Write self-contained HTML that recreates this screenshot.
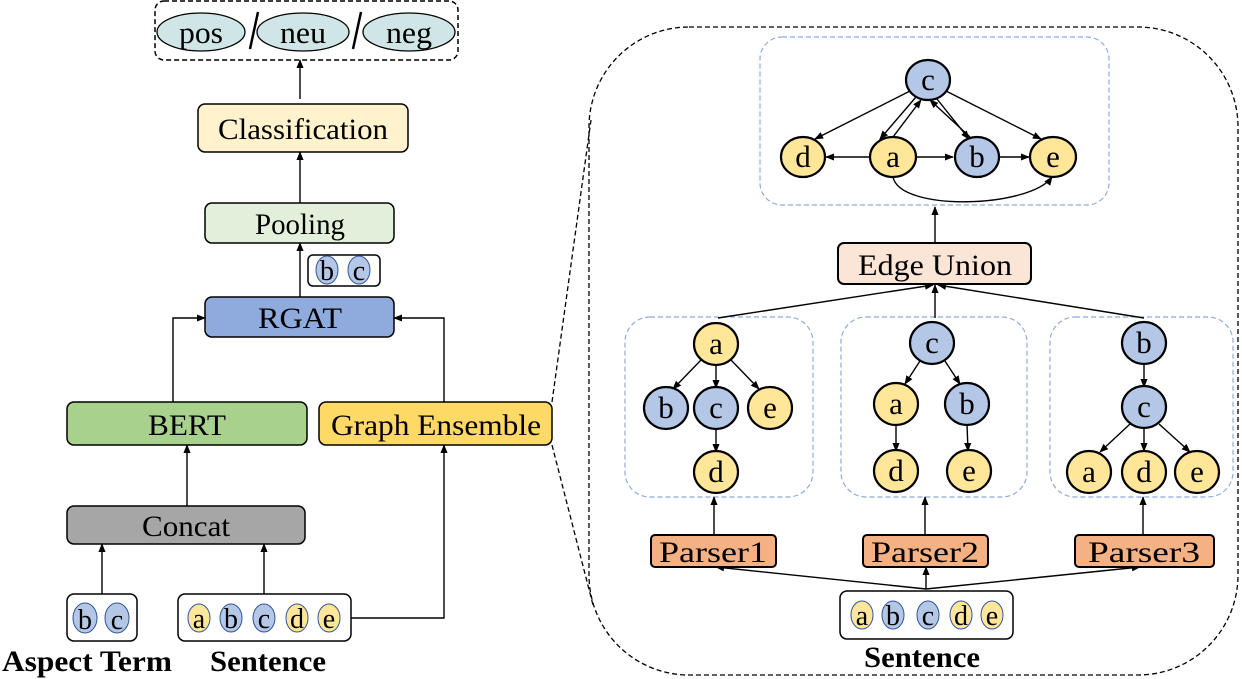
<!DOCTYPE html>
<html><head><meta charset="utf-8"><style>
html,body{margin:0;padding:0;background:#fff;}
svg{display:block;}
text{font-family:"Liberation Serif","Times New Roman",serif;fill:#000;}
</style></head><body>
<svg width="1242" height="679" viewBox="0 0 1242 679" xmlns="http://www.w3.org/2000/svg">
<defs>
<marker id="ar" viewBox="0 0 10 10" refX="9" refY="5" markerWidth="9" markerHeight="9" markerUnits="userSpaceOnUse" orient="auto"><path d="M0,1 L10,5 L0,9 z" fill="#000"/></marker>
</defs>
<g stroke="#000" stroke-width="1.5" fill="none">
<rect x="155" y="1" width="303" height="59" rx="9" stroke-dasharray="5,3"/>
</g>
<g stroke="#000" stroke-width="1.3" fill="#d0e6e6">
<ellipse cx="201" cy="32" rx="44" ry="19"/>
<ellipse cx="303" cy="32" rx="46" ry="19"/>
<ellipse cx="409" cy="32" rx="46" ry="19"/>
</g>
<g stroke="#000" stroke-width="2.5"><line x1="258" y1="12" x2="250" y2="49"/><line x1="361" y1="12" x2="353" y2="49"/></g>
<g font-size="31" text-anchor="middle">
<text x="201" y="43" textLength="44" lengthAdjust="spacingAndGlyphs">pos</text><text x="303" y="43" textLength="46" lengthAdjust="spacingAndGlyphs">neu</text><text x="409" y="43" textLength="46" lengthAdjust="spacingAndGlyphs">neg</text>
</g>
<g stroke="#000" stroke-width="1.4" fill="none" marker-end="url(#ar)">
<line x1="300" y1="99" x2="300" y2="60"/>
<line x1="300" y1="203" x2="300" y2="152"/>
<line x1="300" y1="297" x2="300" y2="243"/>
<polyline points="173,402 173,318 205,318"/>
<polyline points="444,402 444,318 394,318"/>
<line x1="187" y1="506" x2="187" y2="445"/>
<line x1="102" y1="594" x2="102" y2="544"/>
<line x1="264" y1="594" x2="264" y2="544"/>
<polyline points="351,618 444,618 444,445"/>
</g>
<g stroke="#000" stroke-width="1.5">
<rect x="198" y="104" width="210" height="48" rx="7" fill="#fff2cc"/>
<rect x="205" y="203" width="189" height="40" rx="7" fill="#e2efda"/>
<rect x="205" y="297" width="189" height="40" rx="7" fill="#8faadc"/>
<rect x="67" y="402" width="240" height="43" rx="7" fill="#a9d18e"/>
<rect x="319" y="402" width="233" height="43" rx="7" fill="#ffd966"/>
<rect x="67" y="506" width="238" height="38" rx="7" fill="#a6a6a6"/>
<rect x="308" y="255" width="72" height="31" rx="5" fill="#fff"/>
<rect x="67" y="594" width="70" height="47" rx="7" fill="#fff"/>
<rect x="178" y="594" width="173" height="47" rx="7" fill="#fff"/>
</g>
<g font-size="30" text-anchor="middle">
<text x="303" y="139" textLength="170" lengthAdjust="spacingAndGlyphs">Classification</text>
<text x="300" y="234" textLength="90" lengthAdjust="spacingAndGlyphs">Pooling</text>
<text x="300" y="328" textLength="84" lengthAdjust="spacingAndGlyphs">RGAT</text>
<text x="187" y="435" textLength="78" lengthAdjust="spacingAndGlyphs">BERT</text>
<text x="436" y="435" textLength="210" lengthAdjust="spacingAndGlyphs">Graph Ensemble</text>
<text x="186" y="536" textLength="88" lengthAdjust="spacingAndGlyphs">Concat</text>
</g>
<g stroke="#2f5597" stroke-width="1">
<ellipse cx="327" cy="270" rx="11" ry="14" fill="#b4c7e7"/>
<ellipse cx="359" cy="270" rx="11" ry="14" fill="#b4c7e7"/>
<ellipse cx="85" cy="618" rx="12" ry="15" fill="#b4c7e7"/>
<ellipse cx="117" cy="618" rx="12" ry="15" fill="#b4c7e7"/>
<ellipse cx="199" cy="618" rx="11" ry="14" fill="#ffe699"/>
<ellipse cx="231" cy="618" rx="11" ry="14" fill="#b4c7e7"/>
<ellipse cx="264" cy="618" rx="11" ry="14" fill="#b4c7e7"/>
<ellipse cx="297" cy="618" rx="11" ry="14" fill="#ffe699"/>
<ellipse cx="329" cy="618" rx="11" ry="14" fill="#ffe699"/>
</g>
<g font-size="28" text-anchor="middle">
<text x="327" y="280">b</text><text x="359" y="280">c</text>
<text x="85" y="629">b</text><text x="117" y="629">c</text>
<text x="199" y="628">a</text><text x="231" y="628">b</text><text x="264" y="628">c</text><text x="297" y="628">d</text><text x="329" y="628">e</text>
</g>
<g font-size="30" font-weight="bold" text-anchor="middle">
<text x="87" y="671" textLength="170" lengthAdjust="spacingAndGlyphs">Aspect Term</text>
<text x="268" y="671" textLength="116" lengthAdjust="spacingAndGlyphs">Sentence</text>
<text x="922" y="667" textLength="116" lengthAdjust="spacingAndGlyphs">Sentence</text>
</g>
<g stroke="#000" stroke-width="1.3" fill="none" stroke-dasharray="5,3">
<rect x="589" y="27" width="649" height="648" rx="100"/>
<line x1="552" y1="402" x2="591" y2="120"/>
<line x1="552" y1="445" x2="593" y2="605"/>
</g>
<g stroke="#8faadc" stroke-width="1.2" fill="none" stroke-dasharray="5,3">
<rect x="760" y="37" width="349" height="168" rx="22"/>
<rect x="625" y="317" width="188" height="180" rx="25"/>
<rect x="841" y="317" width="186" height="180" rx="25"/>
<rect x="1050" y="317" width="183" height="180" rx="25"/>
</g>
<g stroke="#000" stroke-width="1.4" fill="none" marker-end="url(#ar)">
<line x1="935" y1="243" x2="935" y2="207"/>
<line x1="718" y1="318" x2="933" y2="285"/>
<line x1="935" y1="318" x2="935" y2="285"/>
<line x1="1144" y1="318" x2="938" y2="285"/>
<line x1="714" y1="535" x2="714" y2="497"/>
<line x1="925" y1="535" x2="925" y2="497"/>
<line x1="1143" y1="535" x2="1143" y2="497"/>
<line x1="926" y1="589" x2="716" y2="567"/>
<line x1="926" y1="589" x2="926" y2="567"/>
<line x1="926" y1="589" x2="1140" y2="567"/>
<line x1="910" y1="91" x2="815" y2="139"/>
<line x1="916" y1="97" x2="880" y2="139"/>
<line x1="893" y1="137" x2="921" y2="100"/>
<line x1="937" y1="99" x2="969" y2="139"/>
<line x1="970" y1="137" x2="930" y2="100"/>
<line x1="946" y1="91" x2="1041" y2="139"/>
<line x1="870" y1="157" x2="826" y2="157"/>
<line x1="916" y1="157" x2="953" y2="157"/>
<line x1="1000" y1="157" x2="1029" y2="157"/>
<path d="M893,177 C900,212 1030,208 1052,177"/>
<line x1="701" y1="360" x2="673" y2="389"/>
<line x1="716" y1="365" x2="716" y2="388"/>
<line x1="731" y1="360" x2="759" y2="389"/>
<line x1="716" y1="428" x2="716" y2="452"/>
<line x1="920" y1="361" x2="905" y2="384"/>
<line x1="945" y1="361" x2="960" y2="384"/>
<line x1="896" y1="424" x2="896" y2="451"/>
<line x1="967" y1="424" x2="968" y2="451"/>
<line x1="1144" y1="365" x2="1144" y2="387"/>
<line x1="1130" y1="424" x2="1100" y2="452"/>
<line x1="1144" y1="428" x2="1144" y2="451"/>
<line x1="1159" y1="424" x2="1190" y2="452"/>
</g>
<g stroke="#000" stroke-width="2">
<rect x="838" y="243" width="193" height="41" rx="6" fill="#fbe5d6"/>
<rect x="651" y="535" width="125" height="32" rx="4" fill="#f4b183"/>
<rect x="863" y="535" width="125" height="32" rx="4" fill="#f4b183"/>
<rect x="1075" y="535" width="139" height="32" rx="4" fill="#f4b183"/>
</g>
<rect x="840" y="591" width="173" height="48" rx="7" fill="#fff" stroke="#000" stroke-width="1.5"/>
<g font-size="30" text-anchor="middle">
<text x="935" y="275" textLength="154" lengthAdjust="spacingAndGlyphs">Edge Union</text>
<text x="713" y="562" textLength="108" lengthAdjust="spacingAndGlyphs">Parser1</text>
<text x="925" y="562" textLength="108" lengthAdjust="spacingAndGlyphs">Parser2</text>
<text x="1144" y="562" textLength="112" lengthAdjust="spacingAndGlyphs">Parser3</text>
</g>
<g stroke="#2f5597" stroke-width="1">
<ellipse cx="862" cy="615" rx="11" ry="14" fill="#ffe699"/>
<ellipse cx="893" cy="615" rx="11" ry="14" fill="#b4c7e7"/>
<ellipse cx="928" cy="615" rx="11" ry="14" fill="#b4c7e7"/>
<ellipse cx="961" cy="615" rx="11" ry="14" fill="#ffe699"/>
<ellipse cx="992" cy="615" rx="11" ry="14" fill="#ffe699"/>
</g>
<g font-size="28" text-anchor="middle">
<text x="862" y="625">a</text><text x="893" y="625">b</text><text x="928" y="625">c</text><text x="961" y="625">d</text><text x="992" y="625">e</text>
</g>
<g stroke="#000" stroke-width="2.2">
<ellipse cx="928" cy="80" rx="22" ry="20" fill="#b4c7e7"/>
<ellipse cx="803" cy="157" rx="22" ry="20" fill="#ffe699"/>
<ellipse cx="893" cy="157" rx="23" ry="20" fill="#ffe699"/>
<ellipse cx="977" cy="157" rx="22" ry="20" fill="#b4c7e7"/>
<ellipse cx="1053" cy="157" rx="23" ry="20" fill="#ffe699"/>
<ellipse cx="716" cy="344" rx="22" ry="21" fill="#ffe699"/>
<ellipse cx="666" cy="408" rx="22" ry="21" fill="#b4c7e7"/>
<ellipse cx="716" cy="408" rx="22" ry="21" fill="#b4c7e7"/>
<ellipse cx="770" cy="408" rx="22" ry="21" fill="#ffe699"/>
<ellipse cx="716" cy="472" rx="22" ry="21" fill="#ffe699"/>
<ellipse cx="932" cy="343" rx="22" ry="21" fill="#b4c7e7"/>
<ellipse cx="896" cy="404" rx="22" ry="21" fill="#ffe699"/>
<ellipse cx="967" cy="404" rx="22" ry="21" fill="#b4c7e7"/>
<ellipse cx="896" cy="471" rx="22" ry="21" fill="#ffe699"/>
<ellipse cx="969" cy="471" rx="22" ry="21" fill="#ffe699"/>
<ellipse cx="1144" cy="343" rx="22" ry="21" fill="#b4c7e7"/>
<ellipse cx="1144" cy="407" rx="22" ry="21" fill="#b4c7e7"/>
<ellipse cx="1089" cy="472" rx="22" ry="21" fill="#ffe699"/>
<ellipse cx="1144" cy="472" rx="22" ry="21" fill="#ffe699"/>
<ellipse cx="1197" cy="472" rx="22" ry="21" fill="#ffe699"/>
</g>
<g font-size="31" text-anchor="middle">
<text x="928" y="90">c</text><text x="803" y="167">d</text><text x="893" y="167">a</text><text x="977" y="167">b</text><text x="1053" y="167">e</text>
<text x="716" y="354">a</text><text x="666" y="418">b</text><text x="716" y="418">c</text><text x="770" y="418">e</text><text x="716" y="482">d</text>
<text x="932" y="353">c</text><text x="896" y="414">a</text><text x="967" y="414">b</text><text x="896" y="481">d</text><text x="969" y="481">e</text>
<text x="1144" y="353">b</text><text x="1144" y="417">c</text><text x="1089" y="482">a</text><text x="1144" y="482">d</text><text x="1197" y="482">e</text>
</g>
</svg>
</body></html>
